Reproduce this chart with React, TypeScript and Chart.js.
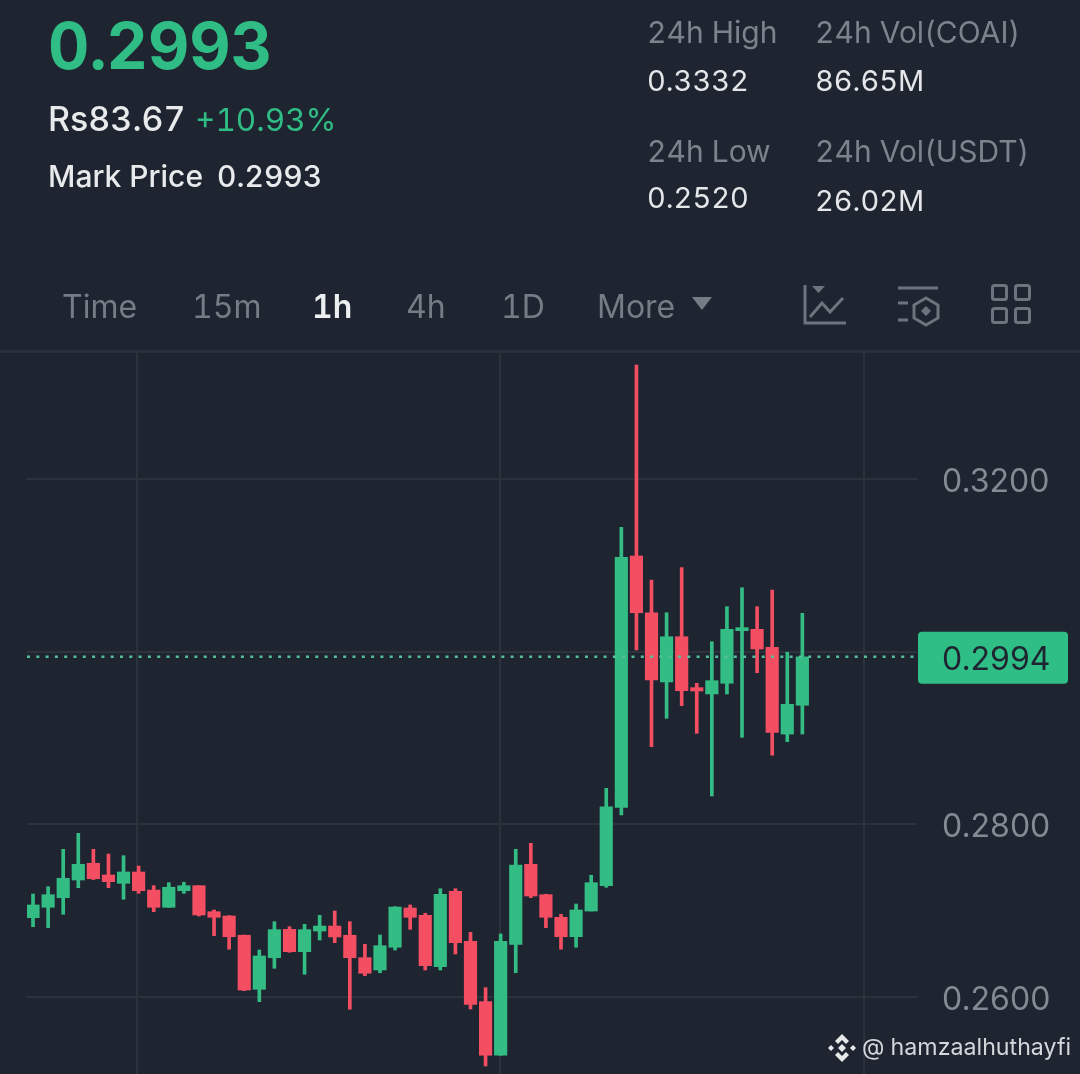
import React, { useEffect, useRef } from "react";
import { Chart, registerables } from "chart.js";

Chart.register(...registerables);

const opens = [0.26919,0.27039,0.2715,0.27355,0.27549,0.27413,0.27317,0.27448,0.27239,0.27039,0.27231,0.27289,0.26988,0.26938,0.26715,0.26089,0.26455,0.26784,0.26525,0.26764,0.26822,0.26715,0.26455,0.26313,0.26576,0.27031,0.26946,0.26351,0.27224,0.26645,0.25946,0.25325,0.2661,0.27537,0.27185,0.26923,0.26698,0.26996,0.27289,0.28197,0.31108,0.30451,0.29649,0.30173,0.29583,0.2951,0.29634,0.30243,0.30259,0.30051,0.29046,0.29379];
const highs = [0.27193,0.27278,0.27711,0.27896,0.27711,0.27656,0.27637,0.27517,0.27289,0.27324,0.27329,0.27289,0.27008,0.26942,0.26718,0.26544,0.26872,0.26814,0.26842,0.26946,0.26996,0.26872,0.2661,0.26718,0.27046,0.27066,0.2697,0.27254,0.27254,0.26749,0.26108,0.2673,0.27711,0.2778,0.2719,0.26958,0.27077,0.2741,0.28417,0.31441,0.3332,0.3083,0.30451,0.30973,0.29634,0.30115,0.30521,0.30741,0.30521,0.30714,0.29993,0.30444];
const lows = [0.26814,0.26803,0.26958,0.27266,0.2736,0.27266,0.27132,0.27201,0.26988,0.27039,0.27201,0.26938,0.2671,0.26553,0.26073,0.25946,0.26332,0.26518,0.26263,0.2666,0.26629,0.25858,0.26247,0.26281,0.26544,0.26784,0.26313,0.26313,0.26498,0.25861,0.25201,0.25325,0.26281,0.2715,0.26803,0.26553,0.26576,0.26996,0.27271,0.28108,0.30019,0.28899,0.29228,0.29374,0.29054,0.28328,0.2951,0.29008,0.29756,0.288,0.28957,0.29046];
const closes = [0.27066,0.27185,0.27375,0.27537,0.2737,0.27336,0.27448,0.27231,0.27039,0.27271,0.27289,0.2695,0.26923,0.26698,0.26081,0.26475,0.2678,0.26525,0.2678,0.26822,0.26695,0.26455,0.26275,0.26594,0.27042,0.26923,0.26363,0.2719,0.26629,0.25915,0.25325,0.26645,0.27529,0.2717,0.26923,0.26698,0.27008,0.27324,0.28204,0.31093,0.30451,0.29672,0.30173,0.29548,0.29544,0.29664,0.30259,0.30278,0.30031,0.29066,0.2939,0.2994];

const priceTicks = [0.26, 0.28, 0.3, 0.32];
const timeGridlines = [6.9, 30.97, 55.1];
const lastPrice = 0.2994;
const lastPriceLabel = "0.2994";

const tabs = [
  { t: "Time", x: 63 },
  { t: "15m", x: 193 },
  { t: "1h", x: 313 },
  { t: "4h", x: 407 },
  { t: "1D", x: 502 },
  { t: "More", x: 598 },
];

const stats = [
  { t: "24h High", x: 648, y: 32, c: "#7c838d" },
  { t: "0.3332", x: 648, y: 80, c: "#e4e6e9" },
  { t: "24h Low", x: 648, y: 151, c: "#7c838d" },
  { t: "0.2520", x: 648, y: 197, c: "#e4e6e9" },
  { t: "24h Vol(COAI)", x: 816, y: 32, c: "#7c838d" },
  { t: "86.65M", x: 816, y: 80, c: "#e4e6e9" },
  { t: "24h Vol(USDT)", x: 816, y: 151, c: "#7c838d" },
  { t: "26.02M", x: 816, y: 200, c: "#e4e6e9" },
];

const BG = "#1e2530";
const GREEN = "#33bd84";
const RED = "#f44e63";
const GRID = "#2b323c";
const FONT = "Inter, 'Noto Sans', sans-serif";

function T(p: { x: number; y: number; s: number; c: string; w?: number; children: React.ReactNode }) {
  return (
    <div
      style={{
        position: "absolute",
        left: p.x,
        top: p.y,
        transform: "translateY(-50%)",
        fontSize: p.s,
        color: p.c,
        fontWeight: p.w ?? 400,
        fontFamily: FONT,
        fontVariantNumeric: "tabular-nums",
        whiteSpace: "nowrap",
        lineHeight: 1,
      }}
    >
      {p.children}
    </div>
  );
}

export default function App() {
  const ref = useRef<HTMLCanvasElement>(null);
  useEffect(() => {
    const colors = opens.map((o, i) => (closes[i] >= o ? GREEN : RED));
    const priceLine = {
      id: "priceLine",
      afterDatasetsDraw(chart: any) {
        const { ctx, chartArea, scales } = chart;
        const y = scales.y.getPixelForValue(lastPrice);
        ctx.save();
        ctx.strokeStyle = "#55bf9a";
        ctx.lineWidth = 2.5;
        ctx.setLineDash([3, 6.3]);
        ctx.beginPath();
        ctx.moveTo(chartArea.left, y);
        ctx.lineTo(chartArea.right, y);
        ctx.stroke();
        ctx.setLineDash([]);
        ctx.fillStyle = "#2fbe85";
        ctx.beginPath();
        ctx.roundRect(918, y - 25, 150, 52, 4);
        ctx.fill();
        ctx.fillStyle = BG;
        ctx.font = "32px " + FONT;
        ctx.textBaseline = "middle";
        ctx.textAlign = "left";
        ctx.fillText(lastPriceLabel, 942, y + 4);
        ctx.restore();
      },
    };
    const chart = new Chart(ref.current!, {
      type: "bar",
      data: {
        datasets: [
          {
            label: "body",
            data: opens.map((o, i) => ({ x: i, y: [o, closes[i]] })) as any,
            backgroundColor: colors,
            barThickness: 12.5,
            minBarLength: 3,
            grouped: false,
          } as any,
          {
            label: "wick",
            data: opens.map((_, i) => ({ x: i, y: [lows[i], highs[i]] })) as any,
            backgroundColor: colors,
            barThickness: 3,
            grouped: false,
          } as any,
        ],
      },
      options: {
        responsive: false,
        animation: false,
        devicePixelRatio: 1,
        layout: { padding: { top: 352, left: 27, right: 0, bottom: 0 } },
        plugins: { legend: { display: false }, tooltip: { enabled: false } },
        scales: {
          x: {
            type: "linear",
            offset: false,
            min: -0.4,
            max: 58.6,
            afterBuildTicks: (s: any) => {
              s.ticks = timeGridlines.map((value) => ({ value }));
            },
            afterFit: (s: any) => {
              s.height = 0;
            },
            ticks: { display: false },
            grid: { color: GRID, lineWidth: 2, drawTicks: false, offset: false },
            border: { display: false },
          },
          y: {
            type: "linear",
            position: "right",
            min: 0.25108,
            max: 0.33471,
            afterBuildTicks: (s: any) => {
              s.ticks = priceTicks.map((value) => ({ value }));
            },
            afterFit: (s: any) => {
              s.width = 163;
              s.paddingTop = 0;
              s.paddingBottom = 0;
            },
            ticks: {
              color: "#848a93",
              padding: 25,
              labelOffset: 3,
              font: { size: 32, family: FONT },
              callback: (v: any) => Number(v).toFixed(4),
            },
            grid: { color: GRID, lineWidth: 2, drawTicks: false },
            border: { display: false },
          },
        },
      } as any,
      plugins: [priceLine],
    });
    return () => chart.destroy();
  }, []);

  const ic = "#6e747e";
  return (
    <div style={{ position: "fixed", left: 0, top: 0, width: 1080, height: 1074, background: BG, overflow: "hidden" }}>
      <canvas ref={ref} width={1080} height={1074} style={{ position: "absolute", left: 0, top: 0, display: "block" }} />
      <div style={{ position: "absolute", left: 0, top: 350, width: 1080, height: 3, background: "#29303a" }} />
      <T x={48} y={46} s={64} c="#2fbd85" w={700}>0.2993</T>
      <T x={48} y={119} s={34} c="#e8eaec" w={500}>Rs83.67</T>
      <T x={195} y={120} s={31.5} c="#2fbd85">+10.93%</T>
      <T x={48} y={176} s={30} c="#e8eaec" w={500}>Mark Price</T>
      <T x={217} y={176} s={30} c="#e8eaec" w={500}>0.2993</T>
      {stats.map((d) => (
        <T key={d.t} x={d.x - 1} y={d.y} s={d.t.startsWith("24h") ? 30 : 29} c={d.c}>{d.t}</T>
      ))}
      {tabs.map((d) => (
        <T key={d.t} x={d.x - 1} y={307} s={32} c={d.t === "1h" ? "#eceef0" : "#767c86"} w={d.t === "1h" ? 600 : 400}>{d.t}</T>
      ))}
      <svg width={1080} height={360} style={{ position: "absolute", left: 0, top: 0 }} fill="none">
        <polygon points="692,297 712,297 702,310" fill="#767c86" />
        <g stroke={ic} strokeWidth={3}>
          <path d="M805 285 V323 H846" />
          <path d="M810 317 L822 303 L830 312 L843 298" />
          <path d="M898 288 H938 M898 303 H908 M898 320 H908" />
          <polygon points="926,298 938,305 938,318 926,325 914,318 914,305" />
          <rect x={992.5} y={285.5} width={14} height={14} rx={2} />
          <rect x={1015.5} y={285.5} width={14} height={14} rx={2} />
          <rect x={992.5} y={308.5} width={14} height={14} rx={2} />
          <rect x={1015.5} y={308.5} width={14} height={14} rx={2} />
        </g>
        <polygon points="812,286 825,286 818.5,293" fill={ic} />
        <polygon points="926,306 931,311 926,316 921,311" fill={ic} />
      </svg>
      <svg width={30} height={30} viewBox="0 0 30 30" style={{ position: "absolute", left: 827, top: 1033 }} fill="#e6e8ea">
        <polygon points="15,1 22,8 19,11 15,7 11,11 8,8" />
        <polygon points="15,29 22,22 19,19 15,23 11,19 8,22" />
        <polygon points="15,11 19,15 15,19 11,15" />
        <polygon points="4,12 7,15 4,18 1,15" />
        <polygon points="26,12 29,15 26,18 23,15" />
      </svg>
      <T x={862} y={1048} s={23.2} c="#d4d7db">@ hamzaalhuthayfi</T>
    </div>
  );
}
